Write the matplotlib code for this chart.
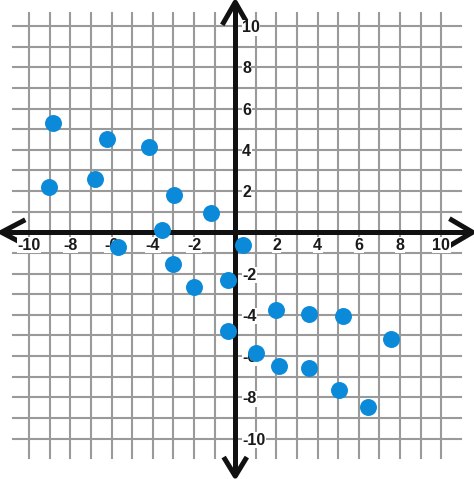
import numpy as np
import matplotlib
matplotlib.use('Agg')
import matplotlib.pyplot as plt

# scatter points
xs = [-8.83, -9.04, -6.24, -6.80, -4.20, -2.98, -1.19, -3.54,
      -5.68, -3.01, -1.99, -0.37, -0.34,
      0.39, 1.98, 3.59, 5.24, 7.54, 1.00, 2.12, 3.58, 5.02, 6.46]
ys = [5.28, 2.20, 4.52, 2.57, 4.12, 1.81, 0.92, 0.11,
      -0.73, -1.54, -2.64, -2.33, -4.78,
      -0.63, -3.77, -3.97, -4.06, -5.16, -5.87, -6.47, -6.58, -7.64, -8.48]

x_ticks = [-10, -8, -6, -4, -2, 2, 4, 6, 8, 10]
y_ticks = [10, 8, 6, 4, 2, -2, -4, -6, -8, -10]

dot_color = '#0a8ad8'
grid_color = '#9a9a9a'

fig = plt.figure(figsize=(4.74, 4.79), dpi=100)
ax = fig.add_axes([0, 0, 1, 1])
ax.set_xlim(-11.42, 11.59)
ax.set_ylim(-11.96, 11.26)
ax.axis('off')

# grid
for g in range(-10, 11):
    if g == 0:
        continue
    ax.plot([g, g], [-10.95, 10.63], color=grid_color, lw=1.5, zorder=1)
    ax.plot([-10.8, 10.95], [g, g], color=grid_color, lw=1.5, zorder=1)

# axes with open arrowheads
lw_ax = 3.6
ax.plot([-11.3, 11.5], [0, 0], color='#111111', lw=lw_ax, zorder=3, solid_capstyle='butt')
ax.plot([0, 0], [-11.8, 11.1], color='#111111', lw=lw_ax, zorder=3, solid_capstyle='butt')
ax.plot([-10.3, -11.35, -10.3], [0.55, 0, -0.55], color='#111111', lw=lw_ax, zorder=3)
ax.plot([10.5, 11.52, 10.5], [0.6, 0, -0.6], color='#111111', lw=lw_ax, zorder=3)
ax.plot([-0.57, 0, 0.57], [10.16, 11.15, 10.16], color='#111111', lw=lw_ax, zorder=3)
ax.plot([-0.5, 0, 0.5], [-11.0, -11.82, -11.0], color='#111111', lw=lw_ax, zorder=3)

# tick labels
box = dict(facecolor='white', edgecolor='none', pad=0.3)
for t in x_ticks:
    ax.text(t, -0.62, str(t), ha='center', va='center', fontsize=11.5,
            family='Liberation Sans', weight='bold', color='#1a1a1a',
            bbox=box, zorder=4)
for t in y_ticks:
    ax.text(0.33, t - 0.08, str(t), ha='left', va='center', fontsize=11.5,
            family='Liberation Sans', weight='bold', color='#1a1a1a',
            bbox=box, zorder=4)

ax.plot(xs, ys, 'o', color=dot_color, markersize=12.2, markeredgewidth=0, zorder=5)

plt.savefig('out.png', dpi=100)
